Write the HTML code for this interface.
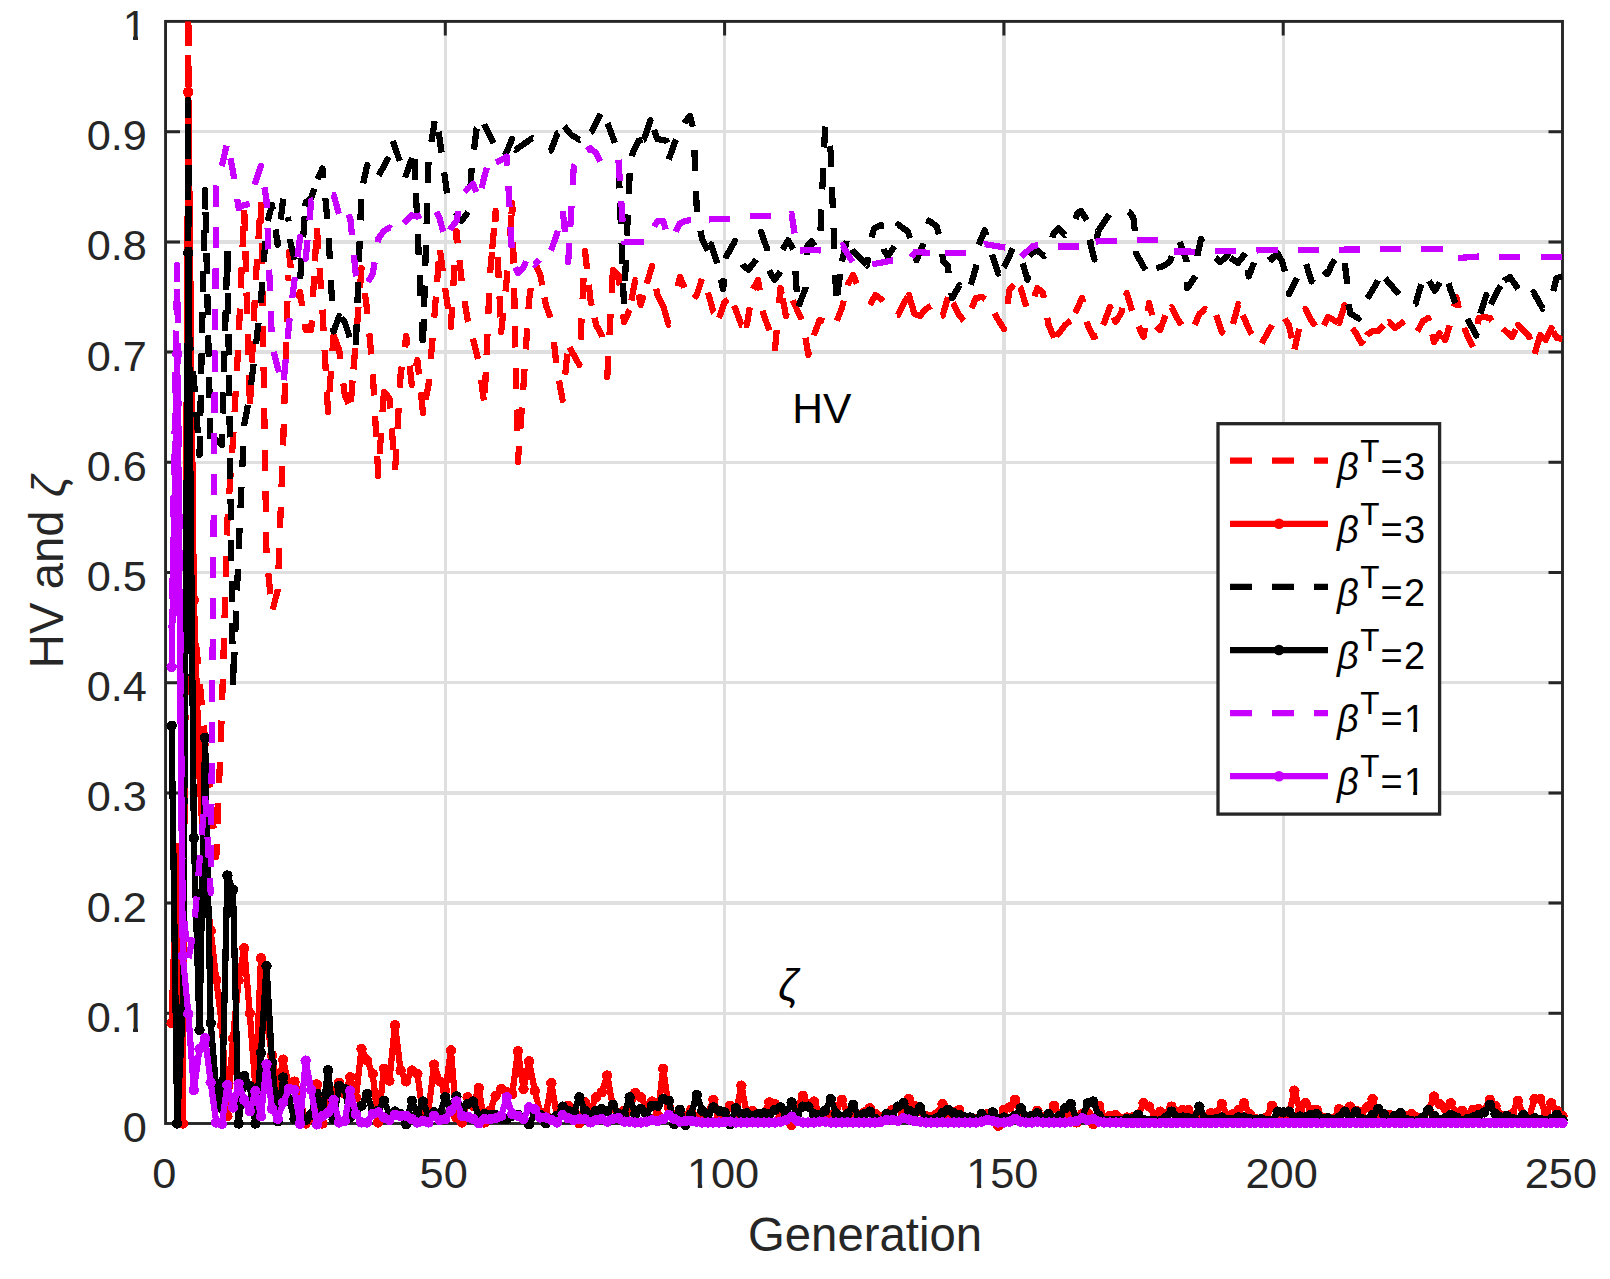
<!DOCTYPE html>
<html><head><meta charset="utf-8"><title>HV and zeta</title>
<style>html,body{margin:0;padding:0;background:#fff}svg{display:block}text{font-family:"Liberation Sans",sans-serif;fill:#262626}</style></head>
<body>
<svg width="1610" height="1279" viewBox="0 0 1610 1279">
<rect width="1610" height="1279" fill="#fff"/>
<defs><clipPath id="ax"><rect x="166.0" y="21.5" width="1396.5" height="1102.0"/></clipPath></defs>
<path d="M445.3 21.5V1123.5M724.6 21.5V1123.5M1003.9 21.5V1123.5M1283.2 21.5V1123.5M166.0 1013.3H1562.5M166.0 903.1H1562.5M166.0 792.9H1562.5M166.0 682.7H1562.5M166.0 572.5H1562.5M166.0 462.3H1562.5M166.0 352.1H1562.5M166.0 241.9H1562.5M166.0 131.7H1562.5" stroke="#dfdfdf" stroke-width="3.3" fill="none" shape-rendering="crispEdges"/>
<path d="M445.3 1123.5v-14M445.3 21.5v14M724.6 1123.5v-14M724.6 21.5v14M1003.9 1123.5v-14M1003.9 21.5v14M1283.2 1123.5v-14M1283.2 21.5v14M166.0 1013.3h14M1562.5 1013.3h-14M166.0 903.1h14M1562.5 903.1h-14M166.0 792.9h14M1562.5 792.9h-14M166.0 682.7h14M1562.5 682.7h-14M166.0 572.5h14M1562.5 572.5h-14M166.0 462.3h14M1562.5 462.3h-14M166.0 352.1h14M1562.5 352.1h-14M166.0 241.9h14M1562.5 241.9h-14M166.0 131.7h14M1562.5 131.7h-14" stroke="#262626" stroke-width="3" fill="none"/>
<rect x="165.55" y="21.4" width="1396.95" height="1102.1" fill="none" stroke="#262626" stroke-width="2.9"/>
<g font-size="43.3">
<text x="164.4" y="1187.5" text-anchor="middle">0</text><text x="443.7" y="1187.5" text-anchor="middle">50</text><text x="723.0" y="1187.5" text-anchor="middle">100</text><text x="1002.3" y="1187.5" text-anchor="middle">150</text><text x="1281.6" y="1187.5" text-anchor="middle">200</text><text x="1560.9" y="1187.5" text-anchor="middle">250</text><text x="146.9" y="1142.0" text-anchor="end">0</text><text x="146.9" y="1031.8" text-anchor="end">0.1</text><text x="146.9" y="921.6" text-anchor="end">0.2</text><text x="146.9" y="811.4" text-anchor="end">0.3</text><text x="146.9" y="701.2" text-anchor="end">0.4</text><text x="146.9" y="591.0" text-anchor="end">0.5</text><text x="146.9" y="480.8" text-anchor="end">0.6</text><text x="146.9" y="370.6" text-anchor="end">0.7</text><text x="146.9" y="260.4" text-anchor="end">0.8</text><text x="146.9" y="150.2" text-anchor="end">0.9</text><text x="146.9" y="40.0" text-anchor="end">1</text></g>
<path d="M125 35.3H133.0v5.4H125zM138.0 35.3H146.5v5.4H138.0zM125 1027.3H133.0v5.4H125zM138.0 1027.3H146.5v5.4H138.0zM689 1183.3H697.8v5.4H689zM702.2 1183.3H709.5v5.4H702.2zM968 1183.3H976.8v5.4H968zM981.2 1183.3H989v5.4H981.2z" fill="#fff"/>
<text x="865" y="1251" font-size="47.3" text-anchor="middle">Generation</text>
<text transform="translate(63,668.2) rotate(-90)" font-size="47.3">HV and</text>
<text transform="translate(65,497) rotate(-90)" font-size="46.6" font-style="italic" font-family="'Liberation Serif','DejaVu Serif',serif">ζ</text>
<g shape-rendering="crispEdges">
<polyline points="171.6,726.0 177.2,1123.0 182.8,1008.0 188.1,420.0 188.3,-300.0 188.6,420.0 193.9,620.0 199.5,680.0 205.1,740.0 210.7,798.0 216.3,857.0 221.9,710.0 227.4,520.0 233.0,440.0 238.6,340.0 244.2,208.0 249.8,410.0 255.4,285.0 261.0,200.0 266.5,555.0 272.1,612.0 277.7,590.0 283.3,440.0 288.2,274.9" fill="none" stroke="#ff0000" stroke-width="6.25" stroke-linejoin="round" stroke-dasharray="21.1 20.15" stroke-dashoffset="0" clip-path="url(#ax)"/>
<path d="M288.7 256.9L288.9 252.0L290.8 268.1M296.0 297.8L300.1 292.0L302.1 305.9M304.8 324.1L305.6 330.0L311.2 330.0L311.8 320.4M313.0 296.8L314.2 275.7M315.0 261.4L316.1 240.3M316.9 228.0L318.3 249.1M319.6 267.9L321.0 289.0M322.4 309.6L323.6 330.7M324.6 350.2L325.8 371.3M326.9 391.7L328.0 412.0L328.1 411.2M329.5 391.8L331.0 370.7M332.4 351.2L333.6 335.0L335.3 339.5M335.0 338.8L339.2 350.0L340.3 359.1M343.3 383.4L344.8 395.0L348.5 403.7M350.9 401.5L352.6 380.5M353.5 369.4L355.2 348.3M356.9 327.8L358.5 306.8M360.0 287.9L361.5 268.0L361.7 269.1M364.8 292.9L367.1 310.0L367.4 313.8M369.3 333.4L371.2 354.4M372.9 374.4L374.0 395.5M375.1 415.9L376.2 437.0M377.2 455.9L378.3 476.0L378.3 475.0M379.7 453.9L381.1 432.8M382.5 412.3L383.9 392.0L384.3 392.5M383.7 394.3L383.9 392.0L389.4 398.0L390.2 408.5M391.8 428.4L393.4 449.5M395.1 470.3L396.3 449.2M397.5 428.9L398.7 407.9M399.9 387.6L400.6 375.0L401.8 366.6M404.6 347.3L406.2 336.0L407.3 345.7M409.6 365.7L411.8 385.0L412.1 383.4M415.9 366.4L417.4 360.0L418.9 374.5M420.8 392.3L423.0 413.0L423.0 412.7M425.6 399.6L428.5 385.0L429.1 378.9M430.8 359.0L432.6 338.0M434.3 317.6L435.9 296.6M437.1 281.8L438.7 260.8M440.0 249.9L442.8 270.9M445.0 288.0L445.3 290.0L448.1 308.8M450.7 325.6L450.9 327.0L452.0 307.3M453.3 286.3L454.5 265.2M456.0 239.7L456.5 231.0L457.7 243.3M459.5 260.2L461.7 281.2M464.6 301.0L467.6 320.0L468.2 321.8M472.8 338.5L473.2 340.0L478.0 358.9M481.1 379.6L483.8 400.5M484.9 392.7L485.8 371.7M486.6 354.9L487.5 333.8M488.3 314.4L489.2 293.4M490.1 273.2L492.0 252.2M492.2 249.2L494.1 228.2M494.6 222.1L495.6 211.0L496.0 220.9M497.7 256.8L498.7 277.9M499.5 296.4L500.5 317.4M501.1 329.9L501.2 332.0L503.2 313.1M505.5 291.5L506.7 280.0L507.4 270.5M510.0 235.8L511.5 214.8M511.5 214.5L512.3 203.0L512.5 212.5M513.2 242.4L513.6 263.5M514.2 287.9L514.6 309.0M515.0 326.4L515.4 347.5M515.9 368.1L516.3 389.2M516.8 409.5L517.2 430.6M517.8 457.1L517.9 462.0L519.1 445.8M520.3 428.6L521.9 407.5M523.1 390.3L523.5 385.0L524.5 369.2M525.8 349.4L527.2 328.4M528.5 309.1L529.1 300.0L530.8 288.1M536.0 265.2L540.3 275.0L542.2 285.2M544.5 297.5L545.8 305.0L550.6 317.6M553.9 342.1L556.2 363.1M559.0 380.6L562.6 400.0L562.7 398.7M565.2 374.6L567.3 353.6M569.4 347.2L573.8 355.0L579.4 365.0L579.4 364.3M580.6 339.6L581.6 318.5M582.6 299.1L583.6 278.0M584.8 254.1L585.0 251.0L587.0 268.9M588.8 284.8L590.5 300.0L591.8 305.7M594.5 317.8L596.1 325.0L601.7 335.0L602.0 337.3M607.3 376.9L607.3 377.0L608.4 356.0M609.5 334.8L610.6 313.7M611.7 293.0L612.8 271.9M612.7 273.1L612.9 270.0L618.5 275.0L619.7 285.4M623.1 314.3L624.1 322.0L629.6 310.0L629.7 309.9M631.4 300.5L635.2 280.0L635.3 280.2M638.5 294.5L640.8 305.0L643.6 295.1M646.8 283.7L652.0 266.0L652.5 268.6M656.3 288.6L657.6 295.0L663.2 306.0L663.8 308.2M662.7 305.1L663.2 306.0L668.7 325.0L668.8 324.7M677.7 286.3L679.9 277.0L684.5 287.6M694.3 298.4L696.7 295.0L702.0 278.9M708.0 292.6L713.4 312.0L714.1 312.7M719.0 318.0L719.0 318.0L724.6 302.0L728.0 299.6M733.8 305.8L735.8 310.0L741.4 325.0L741.8 325.0M743.7 325.0L746.9 325.0L749.8 307.3M753.0 289.2L758.1 280.0L759.8 290.4M763.0 310.5L763.7 315.0L769.3 330.0L769.4 330.5M774.9 350.9L776.7 329.9M779.1 302.9L780.5 288.0L781.7 294.0M782.6 298.6L786.0 316.0L787.0 312.8M792.7 300.4L797.2 310.0L801.6 319.5M805.5 337.8L808.4 355.0L809.4 351.5M813.9 335.4L814.0 335.0L819.6 320.0L824.0 321.6M836.9 320.7L841.9 308.0L843.7 300.7M847.4 285.3L847.5 285.0L853.1 275.0L856.8 283.6M869.9 304.8L875.4 295.0L881.0 299.0L882.9 301.3M897.4 314.9L897.8 315.0L903.4 304.0L907.8 296.9M908.7 295.5L908.9 295.0L914.5 314.0L915.2 314.3M914.6 314.0L920.1 316.0L925.7 309.0L931.2 306.0M941.1 316.5L942.5 316.0L948.0 297.1M952.8 303.0L953.6 304.0L959.2 315.0L963.8 320.8M971.5 308.3L976.0 298.0L981.6 297.0L985.3 299.0M994.6 313.3L998.3 320.0L1003.9 329.0L1004.3 326.2M1007.5 303.8L1009.5 290.0L1014.0 284.4M1019.5 286.9L1020.7 288.0L1026.2 306.7M1034.4 296.2L1037.4 288.0L1043.0 293.0L1043.8 297.8M1047.3 317.9L1048.6 325.0L1054.1 337.8M1056.2 335.8L1059.8 332.0L1065.3 325.0L1070.5 320.4M1075.0 312.8L1076.5 310.0L1082.1 298.0L1083.0 302.6M1087.0 321.5L1087.7 325.0L1093.3 337.0L1097.3 335.6M1103.1 325.1L1104.4 322.0L1110.0 307.0L1110.6 308.6M1113.8 317.1L1115.6 322.0L1121.2 313.0L1122.6 307.9M1126.1 295.4L1126.8 293.0L1132.1 310.9M1138.5 326.2L1143.5 337.0L1145.0 327.9M1147.8 311.4L1149.1 303.0L1152.2 315.2M1156.2 326.3L1160.3 330.0L1165.4 315.3M1171.2 307.3L1171.5 307.0L1177.1 318.0L1181.5 325.1M1194.7 325.0L1199.4 314.0L1205.0 309.0L1206.4 309.8M1216.2 315.0L1216.2 315.0L1221.8 332.0L1224.3 333.9M1232.9 324.0L1232.9 324.0L1238.5 304.0L1238.6 304.3M1242.9 315.1L1244.1 318.0L1249.7 331.0L1252.1 334.0M1261.7 343.4L1266.4 335.0L1272.0 325.0M1284.8 318.6L1288.8 325.0L1291.8 338.3M1294.5 349.4L1299.1 328.8M1305.1 310.2L1305.5 309.0L1311.1 320.0L1315.4 326.1M1323.6 325.5L1327.9 317.0L1333.5 320.0L1338.1 322.5M1338.6 322.7L1339.1 323.0L1344.6 305.0L1345.1 306.6M1352.5 328.2L1355.8 333.0L1361.4 343.0L1363.6 339.9M1366.7 335.4L1367.0 335.0L1372.6 331.0L1378.2 331.0L1383.7 325.1M1388.3 322.6L1389.3 322.0L1394.9 328.0L1400.5 324.0L1404.4 321.2M1417.5 331.5L1422.8 321.0L1428.4 318.0L1429.1 320.9M1432.2 334.2L1434.0 342.0L1439.6 333.0L1441.2 335.0M1441.5 335.4L1445.2 340.0L1449.7 325.5M1454.2 306.7L1456.4 297.0L1458.8 307.9M1464.2 327.8L1467.5 336.0L1473.1 346.9M1477.5 324.1L1478.7 318.0L1484.3 317.0L1489.9 318.0L1491.9 320.9M1502.8 328.5L1506.6 332.0L1512.2 337.0L1515.8 329.4M1517.2 326.4L1517.8 325.0L1523.4 330.0L1529.0 336.0L1530.1 339.7M1534.6 353.9L1540.2 335.0L1541.2 336.0M1541.6 336.3L1545.7 340.0L1551.3 328.0L1552.5 330.0M1553.2 331.3L1556.9 338.0L1562.5 339.0" fill="none" stroke="#ff0000" stroke-width="6.25" stroke-linejoin="round" clip-path="url(#ax)"/>
<polyline points="171.6,1023.2 177.2,848.0 182.8,1123.5 188.3,92.0 193.9,600.1 199.5,775.3 205.1,881.1 210.7,930.6 216.3,980.2 221.9,1025.4 227.4,1116.1 233.0,1038.6 238.6,980.2 244.2,948.3 249.8,1013.3 255.4,1087.6 261.0,958.2 266.5,1021.0 272.1,1055.2 277.7,1090.4 283.3,1059.6 288.9,1087.1 294.5,1081.6 300.1,1097.1 305.6,1123.5 311.2,1117.4 316.8,1084.4 322.4,1123.5 328.0,1096.0 333.6,1092.6 339.2,1082.7 344.8,1093.7 350.3,1077.2 355.9,1097.3 361.5,1048.7 367.1,1060.4 372.7,1073.9 378.3,1122.5 383.9,1068.8 389.4,1080.6 395.0,1025.2 400.6,1070.5 406.2,1081.4 411.8,1070.5 417.4,1073.9 423.0,1114.9 428.5,1110.7 434.1,1064.6 439.7,1081.4 445.3,1090.6 450.9,1050.4 456.5,1117.5 462.1,1122.5 467.6,1097.3 473.2,1105.7 478.8,1088.1 484.4,1122.5 490.0,1110.7 495.6,1095.7 501.2,1088.9 506.7,1092.3 512.3,1094.0 517.9,1051.2 523.5,1088.9 529.1,1061.3 534.7,1090.6 540.3,1112.4 545.8,1114.9 551.4,1083.1 557.0,1117.5 562.6,1107.4 568.2,1105.7 573.8,1110.7 579.4,1123.3 585.0,1102.4 590.5,1110.7 596.1,1097.3 601.7,1092.3 607.3,1075.5 612.9,1107.4 618.5,1114.1 624.1,1110.7 629.6,1110.7 635.2,1093.1 640.8,1097.3 646.4,1107.4 652.0,1101.5 657.6,1114.9 663.2,1068.8 668.7,1107.4 674.3,1115.8 679.9,1117.5 685.5,1115.8 691.1,1109.9 696.7,1117.5 702.3,1117.5 707.8,1114.1 713.4,1099.8 719.0,1115.8 724.6,1114.1 730.2,1105.7 735.8,1114.1 741.4,1085.6 746.9,1114.1 752.5,1110.7 758.1,1117.5 763.7,1114.1 769.3,1102.4 774.9,1104.0 780.5,1117.5 786.0,1115.8 791.6,1125.0 797.2,1107.4 802.8,1095.7 808.4,1104.0 814.0,1101.5 819.6,1114.1 825.1,1117.5 830.7,1115.8 836.3,1107.4 841.9,1099.8 847.5,1114.1 853.1,1117.5 858.7,1117.5 864.2,1112.4 869.8,1108.2 875.4,1114.1 881.0,1117.5 886.6,1114.1 892.2,1109.9 897.8,1107.4 903.4,1114.1 908.9,1099.0 914.5,1105.7 920.1,1110.7 925.7,1115.8 931.3,1117.5 936.9,1114.1 942.5,1104.0 948.0,1115.8 953.6,1112.4 959.2,1109.9 964.8,1117.5 970.4,1119.1 976.0,1119.1 981.6,1117.5 987.1,1114.1 992.7,1117.5 998.3,1125.8 1003.9,1109.9 1009.5,1107.4 1015.1,1099.8 1020.7,1114.1 1026.2,1117.5 1031.8,1115.8 1037.4,1110.7 1043.0,1117.5 1048.6,1117.5 1054.2,1105.7 1059.8,1115.8 1065.3,1114.1 1070.9,1115.8 1076.5,1122.5 1082.1,1114.1 1087.7,1113.3 1093.3,1124.2 1098.9,1105.7 1104.4,1117.5 1110.0,1115.8 1115.6,1114.9 1121.2,1119.1 1126.8,1117.5 1132.4,1117.5 1138.0,1115.8 1143.5,1103.2 1149.1,1106.6 1154.7,1114.9 1160.3,1111.6 1165.9,1114.1 1171.5,1106.6 1177.1,1112.4 1182.7,1109.9 1188.2,1109.9 1193.8,1115.8 1199.4,1117.5 1205.0,1117.5 1210.6,1113.3 1216.2,1113.3 1221.8,1104.0 1227.3,1115.8 1232.9,1114.1 1238.5,1109.9 1244.1,1103.2 1249.7,1114.1 1255.3,1119.1 1260.9,1119.1 1266.4,1117.5 1272.0,1105.7 1277.6,1114.1 1283.2,1114.1 1288.8,1114.1 1294.4,1090.6 1300.0,1110.7 1305.5,1103.2 1311.1,1109.9 1316.7,1109.9 1322.3,1117.5 1327.9,1119.1 1333.5,1119.1 1339.1,1109.1 1344.6,1110.7 1350.2,1106.6 1355.8,1110.7 1361.4,1112.4 1367.0,1107.4 1372.6,1099.0 1378.2,1117.5 1383.7,1115.8 1389.3,1114.9 1394.9,1117.5 1400.5,1119.1 1406.1,1115.8 1411.7,1114.1 1417.3,1117.5 1422.8,1119.1 1428.4,1110.7 1434.0,1096.5 1439.6,1104.0 1445.2,1108.2 1450.8,1103.2 1456.4,1114.1 1462.0,1110.7 1467.5,1114.9 1473.1,1109.9 1478.7,1109.1 1484.3,1110.7 1489.9,1099.8 1495.5,1105.7 1501.1,1115.8 1506.6,1117.5 1512.2,1114.1 1517.8,1100.7 1523.4,1114.9 1529.0,1117.5 1534.6,1099.0 1540.2,1099.0 1545.7,1114.1 1551.3,1103.2 1556.9,1110.7 1562.5,1115.8" fill="none" stroke="#ff0000" stroke-width="6.25" stroke-linejoin="round" stroke-linecap="butt" clip-path="url(#ax)"/><g fill="#ff0000"><circle cx="171.6" cy="1023.2" r="5.2"/><circle cx="177.2" cy="848.0" r="5.2"/><circle cx="182.8" cy="1123.5" r="5.2"/><circle cx="188.3" cy="92.0" r="5.2"/><circle cx="193.9" cy="600.1" r="5.2"/><circle cx="199.5" cy="775.3" r="5.2"/><circle cx="205.1" cy="881.1" r="5.2"/><circle cx="210.7" cy="930.6" r="5.2"/><circle cx="216.3" cy="980.2" r="5.2"/><circle cx="221.9" cy="1025.4" r="5.2"/><circle cx="227.4" cy="1116.1" r="5.2"/><circle cx="233.0" cy="1038.6" r="5.2"/><circle cx="238.6" cy="980.2" r="5.2"/><circle cx="244.2" cy="948.3" r="5.2"/><circle cx="249.8" cy="1013.3" r="5.2"/><circle cx="255.4" cy="1087.6" r="5.2"/><circle cx="261.0" cy="958.2" r="5.2"/><circle cx="266.5" cy="1021.0" r="5.2"/><circle cx="272.1" cy="1055.2" r="5.2"/><circle cx="277.7" cy="1090.4" r="5.2"/><circle cx="283.3" cy="1059.6" r="5.2"/><circle cx="288.9" cy="1087.1" r="5.2"/><circle cx="294.5" cy="1081.6" r="5.2"/><circle cx="300.1" cy="1097.1" r="5.2"/><circle cx="305.6" cy="1123.5" r="5.2"/><circle cx="311.2" cy="1117.4" r="5.2"/><circle cx="316.8" cy="1084.4" r="5.2"/><circle cx="322.4" cy="1123.5" r="5.2"/><circle cx="328.0" cy="1096.0" r="5.2"/><circle cx="333.6" cy="1092.6" r="5.2"/><circle cx="339.2" cy="1082.7" r="5.2"/><circle cx="344.8" cy="1093.7" r="5.2"/><circle cx="350.3" cy="1077.2" r="5.2"/><circle cx="355.9" cy="1097.3" r="5.2"/><circle cx="361.5" cy="1048.7" r="5.2"/><circle cx="367.1" cy="1060.4" r="5.2"/><circle cx="372.7" cy="1073.9" r="5.2"/><circle cx="378.3" cy="1122.5" r="5.2"/><circle cx="383.9" cy="1068.8" r="5.2"/><circle cx="389.4" cy="1080.6" r="5.2"/><circle cx="395.0" cy="1025.2" r="5.2"/><circle cx="400.6" cy="1070.5" r="5.2"/><circle cx="406.2" cy="1081.4" r="5.2"/><circle cx="411.8" cy="1070.5" r="5.2"/><circle cx="417.4" cy="1073.9" r="5.2"/><circle cx="423.0" cy="1114.9" r="5.2"/><circle cx="428.5" cy="1110.7" r="5.2"/><circle cx="434.1" cy="1064.6" r="5.2"/><circle cx="439.7" cy="1081.4" r="5.2"/><circle cx="445.3" cy="1090.6" r="5.2"/><circle cx="450.9" cy="1050.4" r="5.2"/><circle cx="456.5" cy="1117.5" r="5.2"/><circle cx="462.1" cy="1122.5" r="5.2"/><circle cx="467.6" cy="1097.3" r="5.2"/><circle cx="473.2" cy="1105.7" r="5.2"/><circle cx="478.8" cy="1088.1" r="5.2"/><circle cx="484.4" cy="1122.5" r="5.2"/><circle cx="490.0" cy="1110.7" r="5.2"/><circle cx="495.6" cy="1095.7" r="5.2"/><circle cx="501.2" cy="1088.9" r="5.2"/><circle cx="506.7" cy="1092.3" r="5.2"/><circle cx="512.3" cy="1094.0" r="5.2"/><circle cx="517.9" cy="1051.2" r="5.2"/><circle cx="523.5" cy="1088.9" r="5.2"/><circle cx="529.1" cy="1061.3" r="5.2"/><circle cx="534.7" cy="1090.6" r="5.2"/><circle cx="540.3" cy="1112.4" r="5.2"/><circle cx="545.8" cy="1114.9" r="5.2"/><circle cx="551.4" cy="1083.1" r="5.2"/><circle cx="557.0" cy="1117.5" r="5.2"/><circle cx="562.6" cy="1107.4" r="5.2"/><circle cx="568.2" cy="1105.7" r="5.2"/><circle cx="573.8" cy="1110.7" r="5.2"/><circle cx="579.4" cy="1123.3" r="5.2"/><circle cx="585.0" cy="1102.4" r="5.2"/><circle cx="590.5" cy="1110.7" r="5.2"/><circle cx="596.1" cy="1097.3" r="5.2"/><circle cx="601.7" cy="1092.3" r="5.2"/><circle cx="607.3" cy="1075.5" r="5.2"/><circle cx="612.9" cy="1107.4" r="5.2"/><circle cx="618.5" cy="1114.1" r="5.2"/><circle cx="624.1" cy="1110.7" r="5.2"/><circle cx="629.6" cy="1110.7" r="5.2"/><circle cx="635.2" cy="1093.1" r="5.2"/><circle cx="640.8" cy="1097.3" r="5.2"/><circle cx="646.4" cy="1107.4" r="5.2"/><circle cx="652.0" cy="1101.5" r="5.2"/><circle cx="657.6" cy="1114.9" r="5.2"/><circle cx="663.2" cy="1068.8" r="5.2"/><circle cx="668.7" cy="1107.4" r="5.2"/><circle cx="674.3" cy="1115.8" r="5.2"/><circle cx="679.9" cy="1117.5" r="5.2"/><circle cx="685.5" cy="1115.8" r="5.2"/><circle cx="691.1" cy="1109.9" r="5.2"/><circle cx="696.7" cy="1117.5" r="5.2"/><circle cx="702.3" cy="1117.5" r="5.2"/><circle cx="707.8" cy="1114.1" r="5.2"/><circle cx="713.4" cy="1099.8" r="5.2"/><circle cx="719.0" cy="1115.8" r="5.2"/><circle cx="724.6" cy="1114.1" r="5.2"/><circle cx="730.2" cy="1105.7" r="5.2"/><circle cx="735.8" cy="1114.1" r="5.2"/><circle cx="741.4" cy="1085.6" r="5.2"/><circle cx="746.9" cy="1114.1" r="5.2"/><circle cx="752.5" cy="1110.7" r="5.2"/><circle cx="758.1" cy="1117.5" r="5.2"/><circle cx="763.7" cy="1114.1" r="5.2"/><circle cx="769.3" cy="1102.4" r="5.2"/><circle cx="774.9" cy="1104.0" r="5.2"/><circle cx="780.5" cy="1117.5" r="5.2"/><circle cx="786.0" cy="1115.8" r="5.2"/><circle cx="791.6" cy="1125.0" r="5.2"/><circle cx="797.2" cy="1107.4" r="5.2"/><circle cx="802.8" cy="1095.7" r="5.2"/><circle cx="808.4" cy="1104.0" r="5.2"/><circle cx="814.0" cy="1101.5" r="5.2"/><circle cx="819.6" cy="1114.1" r="5.2"/><circle cx="825.1" cy="1117.5" r="5.2"/><circle cx="830.7" cy="1115.8" r="5.2"/><circle cx="836.3" cy="1107.4" r="5.2"/><circle cx="841.9" cy="1099.8" r="5.2"/><circle cx="847.5" cy="1114.1" r="5.2"/><circle cx="853.1" cy="1117.5" r="5.2"/><circle cx="858.7" cy="1117.5" r="5.2"/><circle cx="864.2" cy="1112.4" r="5.2"/><circle cx="869.8" cy="1108.2" r="5.2"/><circle cx="875.4" cy="1114.1" r="5.2"/><circle cx="881.0" cy="1117.5" r="5.2"/><circle cx="886.6" cy="1114.1" r="5.2"/><circle cx="892.2" cy="1109.9" r="5.2"/><circle cx="897.8" cy="1107.4" r="5.2"/><circle cx="903.4" cy="1114.1" r="5.2"/><circle cx="908.9" cy="1099.0" r="5.2"/><circle cx="914.5" cy="1105.7" r="5.2"/><circle cx="920.1" cy="1110.7" r="5.2"/><circle cx="925.7" cy="1115.8" r="5.2"/><circle cx="931.3" cy="1117.5" r="5.2"/><circle cx="936.9" cy="1114.1" r="5.2"/><circle cx="942.5" cy="1104.0" r="5.2"/><circle cx="948.0" cy="1115.8" r="5.2"/><circle cx="953.6" cy="1112.4" r="5.2"/><circle cx="959.2" cy="1109.9" r="5.2"/><circle cx="964.8" cy="1117.5" r="5.2"/><circle cx="970.4" cy="1119.1" r="5.2"/><circle cx="976.0" cy="1119.1" r="5.2"/><circle cx="981.6" cy="1117.5" r="5.2"/><circle cx="987.1" cy="1114.1" r="5.2"/><circle cx="992.7" cy="1117.5" r="5.2"/><circle cx="998.3" cy="1125.8" r="5.2"/><circle cx="1003.9" cy="1109.9" r="5.2"/><circle cx="1009.5" cy="1107.4" r="5.2"/><circle cx="1015.1" cy="1099.8" r="5.2"/><circle cx="1020.7" cy="1114.1" r="5.2"/><circle cx="1026.2" cy="1117.5" r="5.2"/><circle cx="1031.8" cy="1115.8" r="5.2"/><circle cx="1037.4" cy="1110.7" r="5.2"/><circle cx="1043.0" cy="1117.5" r="5.2"/><circle cx="1048.6" cy="1117.5" r="5.2"/><circle cx="1054.2" cy="1105.7" r="5.2"/><circle cx="1059.8" cy="1115.8" r="5.2"/><circle cx="1065.3" cy="1114.1" r="5.2"/><circle cx="1070.9" cy="1115.8" r="5.2"/><circle cx="1076.5" cy="1122.5" r="5.2"/><circle cx="1082.1" cy="1114.1" r="5.2"/><circle cx="1087.7" cy="1113.3" r="5.2"/><circle cx="1093.3" cy="1124.2" r="5.2"/><circle cx="1098.9" cy="1105.7" r="5.2"/><circle cx="1104.4" cy="1117.5" r="5.2"/><circle cx="1110.0" cy="1115.8" r="5.2"/><circle cx="1115.6" cy="1114.9" r="5.2"/><circle cx="1121.2" cy="1119.1" r="5.2"/><circle cx="1126.8" cy="1117.5" r="5.2"/><circle cx="1132.4" cy="1117.5" r="5.2"/><circle cx="1138.0" cy="1115.8" r="5.2"/><circle cx="1143.5" cy="1103.2" r="5.2"/><circle cx="1149.1" cy="1106.6" r="5.2"/><circle cx="1154.7" cy="1114.9" r="5.2"/><circle cx="1160.3" cy="1111.6" r="5.2"/><circle cx="1165.9" cy="1114.1" r="5.2"/><circle cx="1171.5" cy="1106.6" r="5.2"/><circle cx="1177.1" cy="1112.4" r="5.2"/><circle cx="1182.7" cy="1109.9" r="5.2"/><circle cx="1188.2" cy="1109.9" r="5.2"/><circle cx="1193.8" cy="1115.8" r="5.2"/><circle cx="1199.4" cy="1117.5" r="5.2"/><circle cx="1205.0" cy="1117.5" r="5.2"/><circle cx="1210.6" cy="1113.3" r="5.2"/><circle cx="1216.2" cy="1113.3" r="5.2"/><circle cx="1221.8" cy="1104.0" r="5.2"/><circle cx="1227.3" cy="1115.8" r="5.2"/><circle cx="1232.9" cy="1114.1" r="5.2"/><circle cx="1238.5" cy="1109.9" r="5.2"/><circle cx="1244.1" cy="1103.2" r="5.2"/><circle cx="1249.7" cy="1114.1" r="5.2"/><circle cx="1255.3" cy="1119.1" r="5.2"/><circle cx="1260.9" cy="1119.1" r="5.2"/><circle cx="1266.4" cy="1117.5" r="5.2"/><circle cx="1272.0" cy="1105.7" r="5.2"/><circle cx="1277.6" cy="1114.1" r="5.2"/><circle cx="1283.2" cy="1114.1" r="5.2"/><circle cx="1288.8" cy="1114.1" r="5.2"/><circle cx="1294.4" cy="1090.6" r="5.2"/><circle cx="1300.0" cy="1110.7" r="5.2"/><circle cx="1305.5" cy="1103.2" r="5.2"/><circle cx="1311.1" cy="1109.9" r="5.2"/><circle cx="1316.7" cy="1109.9" r="5.2"/><circle cx="1322.3" cy="1117.5" r="5.2"/><circle cx="1327.9" cy="1119.1" r="5.2"/><circle cx="1333.5" cy="1119.1" r="5.2"/><circle cx="1339.1" cy="1109.1" r="5.2"/><circle cx="1344.6" cy="1110.7" r="5.2"/><circle cx="1350.2" cy="1106.6" r="5.2"/><circle cx="1355.8" cy="1110.7" r="5.2"/><circle cx="1361.4" cy="1112.4" r="5.2"/><circle cx="1367.0" cy="1107.4" r="5.2"/><circle cx="1372.6" cy="1099.0" r="5.2"/><circle cx="1378.2" cy="1117.5" r="5.2"/><circle cx="1383.7" cy="1115.8" r="5.2"/><circle cx="1389.3" cy="1114.9" r="5.2"/><circle cx="1394.9" cy="1117.5" r="5.2"/><circle cx="1400.5" cy="1119.1" r="5.2"/><circle cx="1406.1" cy="1115.8" r="5.2"/><circle cx="1411.7" cy="1114.1" r="5.2"/><circle cx="1417.3" cy="1117.5" r="5.2"/><circle cx="1422.8" cy="1119.1" r="5.2"/><circle cx="1428.4" cy="1110.7" r="5.2"/><circle cx="1434.0" cy="1096.5" r="5.2"/><circle cx="1439.6" cy="1104.0" r="5.2"/><circle cx="1445.2" cy="1108.2" r="5.2"/><circle cx="1450.8" cy="1103.2" r="5.2"/><circle cx="1456.4" cy="1114.1" r="5.2"/><circle cx="1462.0" cy="1110.7" r="5.2"/><circle cx="1467.5" cy="1114.9" r="5.2"/><circle cx="1473.1" cy="1109.9" r="5.2"/><circle cx="1478.7" cy="1109.1" r="5.2"/><circle cx="1484.3" cy="1110.7" r="5.2"/><circle cx="1489.9" cy="1099.8" r="5.2"/><circle cx="1495.5" cy="1105.7" r="5.2"/><circle cx="1501.1" cy="1115.8" r="5.2"/><circle cx="1506.6" cy="1117.5" r="5.2"/><circle cx="1512.2" cy="1114.1" r="5.2"/><circle cx="1517.8" cy="1100.7" r="5.2"/><circle cx="1523.4" cy="1114.9" r="5.2"/><circle cx="1529.0" cy="1117.5" r="5.2"/><circle cx="1534.6" cy="1099.0" r="5.2"/><circle cx="1540.2" cy="1099.0" r="5.2"/><circle cx="1545.7" cy="1114.1" r="5.2"/><circle cx="1551.3" cy="1103.2" r="5.2"/><circle cx="1556.9" cy="1110.7" r="5.2"/><circle cx="1562.5" cy="1115.8" r="5.2"/></g>
<polyline points="171.6,726.0 177.2,1123.0 182.8,1008.0 188.1,330.0 188.3,100.0 188.6,330.0 193.9,380.0 199.5,455.0 205.1,190.0 210.7,450.0 216.3,440.0 221.9,445.0 227.4,250.0 233.0,689.0 238.6,551.0 244.2,425.0 249.8,395.0 255.4,350.0 261.0,300.0 266.5,225.0 272.1,205.0 277.7,245.0 283.3,198.0 288.7,221.3" fill="none" stroke="#000000" stroke-width="6.25" stroke-linejoin="round" stroke-dasharray="21.1 20.15" stroke-dashoffset="0" clip-path="url(#ax)"/>
<path d="M289.9 239.2L290.0 240.3L294.4 258.9L294.6 259.8M300.2 278.7L301.7 257.7M303.2 237.4L304.7 216.3M305.4 206.5L305.7 202.3L311.3 198.1L314.4 188.6M317.6 179.3L322.4 168.5L323.3 177.8M325.3 197.9L327.4 218.9M328.7 238.2L329.8 259.3M330.9 280.1L332.0 301.1M333.4 328.3L333.6 331.5L339.2 316.1L340.2 317.3M341.2 318.3L344.7 322.0L349.7 337.2M355.9 344.7L356.7 323.7M357.4 303.2L358.2 282.1M358.9 262.3L359.7 241.2M360.4 220.4L361.2 199.4M363.2 183.3L367.2 165.1L368.3 167.3M378.8 175.6L383.9 166.0L388.8 157.1M392.8 140.9L399.7 160.8M405.1 177.6L412.1 157.8M414.4 159.2L415.4 180.3M416.0 193.3L416.9 214.4M417.8 233.8L418.7 254.9M419.7 275.2L420.6 296.3M421.7 321.5L422.7 342.6M423.1 339.9L423.8 318.8M424.1 306.6L424.8 285.5M425.3 265.7L426.0 244.6M426.6 224.1L427.2 203.1M427.8 183.0L428.5 161.9M431.4 141.9L434.7 121.1M438.6 131.7L441.5 152.6M444.2 172.3L447.0 193.0L447.1 193.2M455.4 212.7L461.4 220.9L468.0 212.1M470.3 189.2L471.6 169.4L471.7 168.2M474.0 149.6L476.6 128.8L476.7 128.7M484.3 124.1L493.4 143.1M503.5 155.8L505.3 155.0L512.1 139.0L512.6 140.7M515.3 149.7L515.4 149.9L532.3 138.1L532.5 138.3M549.0 151.3L550.8 150.8L557.6 133.1L557.9 133.1M564.2 126.3L571.1 134.7L579.4 139.8L579.8 139.6M590.8 132.6L591.4 132.2L600.6 114.0M607.5 123.2L614.9 142.9M618.7 167.3L619.5 188.4M620.0 203.1L620.8 224.2M621.6 243.0L622.4 264.1M623.1 282.9L623.9 304.0M625.0 280.8L625.9 259.7M626.9 235.6L627.9 214.5M628.8 194.2L629.7 173.2M632.2 156.3L632.8 152.5L638.6 140.7L642.6 140.0M643.4 139.9L643.7 139.8L650.5 120.4L650.5 120.6M654.1 129.8L657.2 139.0L666.5 140.7L666.7 142.6M668.7 159.5L675.8 139.8L675.9 139.6M684.5 123.3L685.1 122.1L690.1 115.7L692.9 126.9M694.4 150.3L695.2 171.4M696.0 191.2L696.9 212.3M700.5 230.8L702.0 238.6L707.9 250.4M710.7 245.5L711.2 244.5L717.2 263.1L717.3 263.5M720.8 279.3L723.1 289.3L724.2 278.4M726.2 258.6L726.4 256.3L734.9 241.1L735.3 242.5M742.8 264.1L743.4 265.6L748.4 269.8L756.2 259.5M760.9 233.6L761.1 232.2L767.0 248.7L767.1 250.8M769.0 270.5L774.6 280.0L780.4 271.7M782.5 249.6L782.5 249.6L788.1 240.3L793.2 249.2M795.4 271.0L796.8 292.1M798.4 306.6L805.8 287.6L805.8 286.9M807.1 254.7L807.5 245.4L811.7 241.1L813.9 245.1L814.7 246.1M820.5 230.6L821.4 209.5M822.3 189.4L823.3 168.3M824.2 147.5L825.1 126.5M829.5 146.1L830.7 152.0L831.3 167.0M832.0 187.3L832.8 208.4M833.6 228.1L834.4 249.2M835.3 275.1L836.1 296.2M837.3 295.0L840.2 274.1M842.0 261.4L842.1 261.1L846.7 240.8M852.0 249.7L852.2 250.2L866.6 264.9" fill="none" stroke="#000000" stroke-width="6.25" stroke-linejoin="round" clip-path="url(#ax)"/>
<polyline points="867.0,265.3 867.1,265.4 870.5,240.9 874.2,228.2 880.9,224.8 883.8,249.3 887.7,256.6 895.3,245.1 898.2,224.5 907.9,231.6 911.8,243.4 916.4,260.3 925.1,239.7 929.0,220.6 936.6,226.5 940.4,239.2 943.4,262.0 947.6,265.4 952.2,298.3 959.4,285.3 965.4,293.7 969.6,289.0 975.8,267.9 976.8,249.3 984.8,230.2 991.5,252.7 998.3,273.5 1001.6,269.8" fill="none" stroke="#000000" stroke-width="6.25" stroke-linejoin="round" stroke-dasharray="21.1 20.15" stroke-dashoffset="12.74" clip-path="url(#ax)"/>
<polyline points="1001.6,269.8 1004.2,267.0 1013.5,247.1 1021.1,257.8 1027.5,279.7 1029.5,256.1 1036.3,249.3 1043.9,256.1 1048.9,253.5 1053.2,234.1 1058.3,228.2 1065.0,235.0 1070.9,231.6 1077.6,213.0 1081.0,211.0 1089.4,224.0 1090.6,244.3 1094.5,259.5 1097.9,231.6 1098.0,231.4" fill="none" stroke="#000000" stroke-width="6.25" stroke-linejoin="round" stroke-dasharray="21.1 20.15" stroke-dashoffset="37.93" clip-path="url(#ax)"/>
<polyline points="1098.0,231.4 1109.7,213.6 1129.1,211.9 1133.3,217.3 1135.0,232.5 1136.2,253.6 1146.0,271.0 1155.0,268.5" fill="none" stroke="#000000" stroke-width="6.25" stroke-linejoin="round" stroke-dasharray="21.1 20.15" stroke-dashoffset="0.73" clip-path="url(#ax)"/>
<polyline points="1155.0,268.5 1162.9,266.3 1169.6,262.0 1173.8,251.1 1178.9,239.7 1186.5,260.3 1187.3,288.2 1195.8,275.5 1197.5,255.3 1200.9,238.9 1213.5,256.1 1220.3,262.0 1227.1,256.1 1229.6,257.4" fill="none" stroke="#000000" stroke-width="6.25" stroke-linejoin="round" stroke-dasharray="21.1 20.15" stroke-dashoffset="39.89" clip-path="url(#ax)"/>
<polyline points="1229.6,257.4 1230.4,257.8 1238.0,262.9 1246.4,251.9 1248.7,276.4 1255.8,257.8 1266.7,253.6 1271.8,259.5 1277.7,253.6 1278.3,254.6" fill="none" stroke="#000000" stroke-width="6.25" stroke-linejoin="round" stroke-dasharray="21.1 20.15" stroke-dashoffset="40.24" clip-path="url(#ax)"/>
<polyline points="1278.3,254.6 1281.9,261.2 1287.8,280.6 1289.2,294.1 1298.8,274.7 1305.5,262.0 1311.5,281.4 1320.7,266.3 1326.8,273.9 1327.5,273.9 1332.6,262.9 1333.5,262.0 1338.6,252.7 1344.5,261.2 1347.0,281.4 1347.9,301.7 1350.4,313.5 1358.8,318.6 1364.8,302.6 1375.7,284.8 1379.9,275.5 1381.0,276.1" fill="none" stroke="#000000" stroke-width="6.25" stroke-linejoin="round" stroke-dasharray="21.1 20.15" stroke-dashoffset="2.93" clip-path="url(#ax)"/>
<polyline points="1381.0,276.1 1385.0,278.1 1399.4,295.0 1407.8,303.4 1415.4,304.2 1421.3,284.0 1424.7,273.3 1428.9,280.6 1434.8,290.7 1441.6,279.8 1445.8,273.9 1450.0,288.2 1456.8,307.6 1466.1,316.1 1476.2,335.5 1480.4,313.5 1486.3,295.0 1488.2,310.2 1498.1,289.9 1502.0,283.9" fill="none" stroke="#000000" stroke-width="6.25" stroke-linejoin="round" stroke-dasharray="21.1 20.15" stroke-dashoffset="36.54" clip-path="url(#ax)"/>
<polyline points="1502.0,283.9 1504.1,280.6 1510.0,277.2 1520.1,291.6 1526.9,298.3 1533.6,292.4 1542.9,308.8 1553.0,292.4 1556.4,278.1 1562.5,276.4" fill="none" stroke="#000000" stroke-width="6.25" stroke-linejoin="round" stroke-dasharray="21.1 20.15" stroke-dashoffset="37.46" clip-path="url(#ax)"/>
<polyline points="171.6,725.7 177.2,1123.5 182.8,1007.8 188.3,252.9 193.9,838.1 199.5,1029.8 205.1,737.8 210.7,1023.2 216.3,1090.4 221.9,1108.1 227.4,875.5 233.0,889.9 238.6,1123.5 244.2,1076.1 249.8,1086.0 255.4,1123.5 261.0,1053.0 266.5,965.9 272.1,1062.9 277.7,1121.3 283.3,1077.5 288.9,1099.3 294.5,1119.1 300.1,1110.3 305.6,1120.2 311.2,1114.7 316.8,1093.7 322.4,1114.7 328.0,1070.1 333.6,1119.1 339.2,1086.0 344.8,1088.9 350.3,1117.5 355.9,1114.1 361.5,1105.7 367.1,1094.0 372.7,1112.4 378.3,1110.7 383.9,1100.7 389.4,1114.1 395.0,1111.6 400.6,1114.1 406.2,1124.2 411.8,1100.7 417.4,1114.1 423.0,1101.5 428.5,1115.8 434.1,1112.4 439.7,1114.1 445.3,1097.3 450.9,1107.4 456.5,1096.5 462.1,1110.7 467.6,1104.0 473.2,1101.5 478.8,1115.8 484.4,1114.1 490.0,1114.9 495.6,1114.9 501.2,1119.1 506.7,1119.1 512.3,1115.8 517.9,1114.9 523.5,1119.1 529.1,1124.2 534.7,1114.1 540.3,1114.9 545.8,1123.3 551.4,1119.1 557.0,1115.8 562.6,1106.6 568.2,1110.7 573.8,1112.4 579.4,1097.3 585.0,1110.7 590.5,1114.9 596.1,1110.7 601.7,1109.1 607.3,1110.7 612.9,1104.9 618.5,1114.1 624.1,1114.9 629.6,1097.3 635.2,1114.1 640.8,1109.1 646.4,1114.1 652.0,1105.7 657.6,1105.7 663.2,1099.0 668.7,1100.7 674.3,1124.2 679.9,1109.9 685.5,1125.0 691.1,1114.1 696.7,1094.8 702.3,1110.7 707.8,1114.1 713.4,1107.4 719.0,1110.7 724.6,1112.4 730.2,1124.2 735.8,1108.2 741.4,1114.1 746.9,1113.3 752.5,1115.8 758.1,1114.1 763.7,1113.3 769.3,1114.1 774.9,1109.9 780.5,1107.4 786.0,1114.1 791.6,1102.4 797.2,1114.1 802.8,1106.6 808.4,1106.6 814.0,1114.1 819.6,1114.9 825.1,1110.7 830.7,1099.0 836.3,1114.1 841.9,1117.5 847.5,1114.1 853.1,1104.9 858.7,1115.8 864.2,1114.1 869.8,1111.6 875.4,1119.1 881.0,1120.8 886.6,1114.1 892.2,1114.9 897.8,1106.6 903.4,1103.2 908.9,1110.7 914.5,1113.3 920.1,1107.4 925.7,1119.1 931.3,1120.0 936.9,1118.3 942.5,1113.3 948.0,1109.9 953.6,1113.3 959.2,1114.9 964.8,1117.5 970.4,1117.5 976.0,1120.0 981.6,1114.1 987.1,1119.1 992.7,1112.4 998.3,1119.1 1003.9,1117.5 1009.5,1119.1 1015.1,1115.8 1020.7,1108.2 1026.2,1116.6 1031.8,1115.8 1037.4,1113.3 1043.0,1119.1 1048.6,1114.1 1054.2,1119.1 1059.8,1115.8 1065.3,1108.2 1070.9,1104.0 1076.5,1119.1 1082.1,1117.5 1087.7,1103.2 1093.3,1101.5 1098.9,1115.8 1104.4,1120.8 1110.0,1120.8 1115.6,1120.8 1121.2,1120.8 1126.8,1119.1 1132.4,1119.1 1138.0,1114.9 1143.5,1120.0 1149.1,1120.8 1154.7,1120.8 1160.3,1120.8 1165.9,1117.5 1171.5,1111.6 1177.1,1117.5 1182.7,1117.5 1188.2,1118.3 1193.8,1119.1 1199.4,1106.6 1205.0,1119.1 1210.6,1120.0 1216.2,1119.1 1221.8,1117.5 1227.3,1120.0 1232.9,1120.0 1238.5,1117.5 1244.1,1117.5 1249.7,1119.1 1255.3,1120.0 1260.9,1119.1 1266.4,1120.8 1272.0,1120.8 1277.6,1111.6 1283.2,1112.4 1288.8,1111.6 1294.4,1117.5 1300.0,1116.6 1305.5,1117.5 1311.1,1114.9 1316.7,1114.1 1322.3,1119.1 1327.9,1118.3 1333.5,1120.0 1339.1,1117.5 1344.6,1111.6 1350.2,1117.5 1355.8,1111.6 1361.4,1119.1 1367.0,1120.0 1372.6,1114.9 1378.2,1109.1 1383.7,1114.1 1389.3,1120.0 1394.9,1115.8 1400.5,1113.3 1406.1,1120.0 1411.7,1120.8 1417.3,1120.8 1422.8,1117.5 1428.4,1109.9 1434.0,1115.8 1439.6,1120.0 1445.2,1118.3 1450.8,1114.9 1456.4,1117.5 1462.0,1120.8 1467.5,1119.1 1473.1,1117.5 1478.7,1114.9 1484.3,1112.4 1489.9,1104.9 1495.5,1114.1 1501.1,1117.5 1506.6,1115.8 1512.2,1119.1 1517.8,1120.0 1523.4,1114.9 1529.0,1120.0 1534.6,1118.3 1540.2,1120.0 1545.7,1120.8 1551.3,1119.1 1556.9,1114.9 1562.5,1120.0" fill="none" stroke="#000000" stroke-width="6.25" stroke-linejoin="round" stroke-linecap="butt" clip-path="url(#ax)"/><g fill="#000000"><circle cx="171.6" cy="725.7" r="5.2"/><circle cx="177.2" cy="1123.5" r="5.2"/><circle cx="182.8" cy="1007.8" r="5.2"/><circle cx="188.3" cy="252.9" r="5.2"/><circle cx="193.9" cy="838.1" r="5.2"/><circle cx="199.5" cy="1029.8" r="5.2"/><circle cx="205.1" cy="737.8" r="5.2"/><circle cx="210.7" cy="1023.2" r="5.2"/><circle cx="216.3" cy="1090.4" r="5.2"/><circle cx="221.9" cy="1108.1" r="5.2"/><circle cx="227.4" cy="875.5" r="5.2"/><circle cx="233.0" cy="889.9" r="5.2"/><circle cx="238.6" cy="1123.5" r="5.2"/><circle cx="244.2" cy="1076.1" r="5.2"/><circle cx="249.8" cy="1086.0" r="5.2"/><circle cx="255.4" cy="1123.5" r="5.2"/><circle cx="261.0" cy="1053.0" r="5.2"/><circle cx="266.5" cy="965.9" r="5.2"/><circle cx="272.1" cy="1062.9" r="5.2"/><circle cx="277.7" cy="1121.3" r="5.2"/><circle cx="283.3" cy="1077.5" r="5.2"/><circle cx="288.9" cy="1099.3" r="5.2"/><circle cx="294.5" cy="1119.1" r="5.2"/><circle cx="300.1" cy="1110.3" r="5.2"/><circle cx="305.6" cy="1120.2" r="5.2"/><circle cx="311.2" cy="1114.7" r="5.2"/><circle cx="316.8" cy="1093.7" r="5.2"/><circle cx="322.4" cy="1114.7" r="5.2"/><circle cx="328.0" cy="1070.1" r="5.2"/><circle cx="333.6" cy="1119.1" r="5.2"/><circle cx="339.2" cy="1086.0" r="5.2"/><circle cx="344.8" cy="1088.9" r="5.2"/><circle cx="350.3" cy="1117.5" r="5.2"/><circle cx="355.9" cy="1114.1" r="5.2"/><circle cx="361.5" cy="1105.7" r="5.2"/><circle cx="367.1" cy="1094.0" r="5.2"/><circle cx="372.7" cy="1112.4" r="5.2"/><circle cx="378.3" cy="1110.7" r="5.2"/><circle cx="383.9" cy="1100.7" r="5.2"/><circle cx="389.4" cy="1114.1" r="5.2"/><circle cx="395.0" cy="1111.6" r="5.2"/><circle cx="400.6" cy="1114.1" r="5.2"/><circle cx="406.2" cy="1124.2" r="5.2"/><circle cx="411.8" cy="1100.7" r="5.2"/><circle cx="417.4" cy="1114.1" r="5.2"/><circle cx="423.0" cy="1101.5" r="5.2"/><circle cx="428.5" cy="1115.8" r="5.2"/><circle cx="434.1" cy="1112.4" r="5.2"/><circle cx="439.7" cy="1114.1" r="5.2"/><circle cx="445.3" cy="1097.3" r="5.2"/><circle cx="450.9" cy="1107.4" r="5.2"/><circle cx="456.5" cy="1096.5" r="5.2"/><circle cx="462.1" cy="1110.7" r="5.2"/><circle cx="467.6" cy="1104.0" r="5.2"/><circle cx="473.2" cy="1101.5" r="5.2"/><circle cx="478.8" cy="1115.8" r="5.2"/><circle cx="484.4" cy="1114.1" r="5.2"/><circle cx="490.0" cy="1114.9" r="5.2"/><circle cx="495.6" cy="1114.9" r="5.2"/><circle cx="501.2" cy="1119.1" r="5.2"/><circle cx="506.7" cy="1119.1" r="5.2"/><circle cx="512.3" cy="1115.8" r="5.2"/><circle cx="517.9" cy="1114.9" r="5.2"/><circle cx="523.5" cy="1119.1" r="5.2"/><circle cx="529.1" cy="1124.2" r="5.2"/><circle cx="534.7" cy="1114.1" r="5.2"/><circle cx="540.3" cy="1114.9" r="5.2"/><circle cx="545.8" cy="1123.3" r="5.2"/><circle cx="551.4" cy="1119.1" r="5.2"/><circle cx="557.0" cy="1115.8" r="5.2"/><circle cx="562.6" cy="1106.6" r="5.2"/><circle cx="568.2" cy="1110.7" r="5.2"/><circle cx="573.8" cy="1112.4" r="5.2"/><circle cx="579.4" cy="1097.3" r="5.2"/><circle cx="585.0" cy="1110.7" r="5.2"/><circle cx="590.5" cy="1114.9" r="5.2"/><circle cx="596.1" cy="1110.7" r="5.2"/><circle cx="601.7" cy="1109.1" r="5.2"/><circle cx="607.3" cy="1110.7" r="5.2"/><circle cx="612.9" cy="1104.9" r="5.2"/><circle cx="618.5" cy="1114.1" r="5.2"/><circle cx="624.1" cy="1114.9" r="5.2"/><circle cx="629.6" cy="1097.3" r="5.2"/><circle cx="635.2" cy="1114.1" r="5.2"/><circle cx="640.8" cy="1109.1" r="5.2"/><circle cx="646.4" cy="1114.1" r="5.2"/><circle cx="652.0" cy="1105.7" r="5.2"/><circle cx="657.6" cy="1105.7" r="5.2"/><circle cx="663.2" cy="1099.0" r="5.2"/><circle cx="668.7" cy="1100.7" r="5.2"/><circle cx="674.3" cy="1124.2" r="5.2"/><circle cx="679.9" cy="1109.9" r="5.2"/><circle cx="685.5" cy="1125.0" r="5.2"/><circle cx="691.1" cy="1114.1" r="5.2"/><circle cx="696.7" cy="1094.8" r="5.2"/><circle cx="702.3" cy="1110.7" r="5.2"/><circle cx="707.8" cy="1114.1" r="5.2"/><circle cx="713.4" cy="1107.4" r="5.2"/><circle cx="719.0" cy="1110.7" r="5.2"/><circle cx="724.6" cy="1112.4" r="5.2"/><circle cx="730.2" cy="1124.2" r="5.2"/><circle cx="735.8" cy="1108.2" r="5.2"/><circle cx="741.4" cy="1114.1" r="5.2"/><circle cx="746.9" cy="1113.3" r="5.2"/><circle cx="752.5" cy="1115.8" r="5.2"/><circle cx="758.1" cy="1114.1" r="5.2"/><circle cx="763.7" cy="1113.3" r="5.2"/><circle cx="769.3" cy="1114.1" r="5.2"/><circle cx="774.9" cy="1109.9" r="5.2"/><circle cx="780.5" cy="1107.4" r="5.2"/><circle cx="786.0" cy="1114.1" r="5.2"/><circle cx="791.6" cy="1102.4" r="5.2"/><circle cx="797.2" cy="1114.1" r="5.2"/><circle cx="802.8" cy="1106.6" r="5.2"/><circle cx="808.4" cy="1106.6" r="5.2"/><circle cx="814.0" cy="1114.1" r="5.2"/><circle cx="819.6" cy="1114.9" r="5.2"/><circle cx="825.1" cy="1110.7" r="5.2"/><circle cx="830.7" cy="1099.0" r="5.2"/><circle cx="836.3" cy="1114.1" r="5.2"/><circle cx="841.9" cy="1117.5" r="5.2"/><circle cx="847.5" cy="1114.1" r="5.2"/><circle cx="853.1" cy="1104.9" r="5.2"/><circle cx="858.7" cy="1115.8" r="5.2"/><circle cx="864.2" cy="1114.1" r="5.2"/><circle cx="869.8" cy="1111.6" r="5.2"/><circle cx="875.4" cy="1119.1" r="5.2"/><circle cx="881.0" cy="1120.8" r="5.2"/><circle cx="886.6" cy="1114.1" r="5.2"/><circle cx="892.2" cy="1114.9" r="5.2"/><circle cx="897.8" cy="1106.6" r="5.2"/><circle cx="903.4" cy="1103.2" r="5.2"/><circle cx="908.9" cy="1110.7" r="5.2"/><circle cx="914.5" cy="1113.3" r="5.2"/><circle cx="920.1" cy="1107.4" r="5.2"/><circle cx="925.7" cy="1119.1" r="5.2"/><circle cx="931.3" cy="1120.0" r="5.2"/><circle cx="936.9" cy="1118.3" r="5.2"/><circle cx="942.5" cy="1113.3" r="5.2"/><circle cx="948.0" cy="1109.9" r="5.2"/><circle cx="953.6" cy="1113.3" r="5.2"/><circle cx="959.2" cy="1114.9" r="5.2"/><circle cx="964.8" cy="1117.5" r="5.2"/><circle cx="970.4" cy="1117.5" r="5.2"/><circle cx="976.0" cy="1120.0" r="5.2"/><circle cx="981.6" cy="1114.1" r="5.2"/><circle cx="987.1" cy="1119.1" r="5.2"/><circle cx="992.7" cy="1112.4" r="5.2"/><circle cx="998.3" cy="1119.1" r="5.2"/><circle cx="1003.9" cy="1117.5" r="5.2"/><circle cx="1009.5" cy="1119.1" r="5.2"/><circle cx="1015.1" cy="1115.8" r="5.2"/><circle cx="1020.7" cy="1108.2" r="5.2"/><circle cx="1026.2" cy="1116.6" r="5.2"/><circle cx="1031.8" cy="1115.8" r="5.2"/><circle cx="1037.4" cy="1113.3" r="5.2"/><circle cx="1043.0" cy="1119.1" r="5.2"/><circle cx="1048.6" cy="1114.1" r="5.2"/><circle cx="1054.2" cy="1119.1" r="5.2"/><circle cx="1059.8" cy="1115.8" r="5.2"/><circle cx="1065.3" cy="1108.2" r="5.2"/><circle cx="1070.9" cy="1104.0" r="5.2"/><circle cx="1076.5" cy="1119.1" r="5.2"/><circle cx="1082.1" cy="1117.5" r="5.2"/><circle cx="1087.7" cy="1103.2" r="5.2"/><circle cx="1093.3" cy="1101.5" r="5.2"/><circle cx="1098.9" cy="1115.8" r="5.2"/><circle cx="1104.4" cy="1120.8" r="5.2"/><circle cx="1110.0" cy="1120.8" r="5.2"/><circle cx="1115.6" cy="1120.8" r="5.2"/><circle cx="1121.2" cy="1120.8" r="5.2"/><circle cx="1126.8" cy="1119.1" r="5.2"/><circle cx="1132.4" cy="1119.1" r="5.2"/><circle cx="1138.0" cy="1114.9" r="5.2"/><circle cx="1143.5" cy="1120.0" r="5.2"/><circle cx="1149.1" cy="1120.8" r="5.2"/><circle cx="1154.7" cy="1120.8" r="5.2"/><circle cx="1160.3" cy="1120.8" r="5.2"/><circle cx="1165.9" cy="1117.5" r="5.2"/><circle cx="1171.5" cy="1111.6" r="5.2"/><circle cx="1177.1" cy="1117.5" r="5.2"/><circle cx="1182.7" cy="1117.5" r="5.2"/><circle cx="1188.2" cy="1118.3" r="5.2"/><circle cx="1193.8" cy="1119.1" r="5.2"/><circle cx="1199.4" cy="1106.6" r="5.2"/><circle cx="1205.0" cy="1119.1" r="5.2"/><circle cx="1210.6" cy="1120.0" r="5.2"/><circle cx="1216.2" cy="1119.1" r="5.2"/><circle cx="1221.8" cy="1117.5" r="5.2"/><circle cx="1227.3" cy="1120.0" r="5.2"/><circle cx="1232.9" cy="1120.0" r="5.2"/><circle cx="1238.5" cy="1117.5" r="5.2"/><circle cx="1244.1" cy="1117.5" r="5.2"/><circle cx="1249.7" cy="1119.1" r="5.2"/><circle cx="1255.3" cy="1120.0" r="5.2"/><circle cx="1260.9" cy="1119.1" r="5.2"/><circle cx="1266.4" cy="1120.8" r="5.2"/><circle cx="1272.0" cy="1120.8" r="5.2"/><circle cx="1277.6" cy="1111.6" r="5.2"/><circle cx="1283.2" cy="1112.4" r="5.2"/><circle cx="1288.8" cy="1111.6" r="5.2"/><circle cx="1294.4" cy="1117.5" r="5.2"/><circle cx="1300.0" cy="1116.6" r="5.2"/><circle cx="1305.5" cy="1117.5" r="5.2"/><circle cx="1311.1" cy="1114.9" r="5.2"/><circle cx="1316.7" cy="1114.1" r="5.2"/><circle cx="1322.3" cy="1119.1" r="5.2"/><circle cx="1327.9" cy="1118.3" r="5.2"/><circle cx="1333.5" cy="1120.0" r="5.2"/><circle cx="1339.1" cy="1117.5" r="5.2"/><circle cx="1344.6" cy="1111.6" r="5.2"/><circle cx="1350.2" cy="1117.5" r="5.2"/><circle cx="1355.8" cy="1111.6" r="5.2"/><circle cx="1361.4" cy="1119.1" r="5.2"/><circle cx="1367.0" cy="1120.0" r="5.2"/><circle cx="1372.6" cy="1114.9" r="5.2"/><circle cx="1378.2" cy="1109.1" r="5.2"/><circle cx="1383.7" cy="1114.1" r="5.2"/><circle cx="1389.3" cy="1120.0" r="5.2"/><circle cx="1394.9" cy="1115.8" r="5.2"/><circle cx="1400.5" cy="1113.3" r="5.2"/><circle cx="1406.1" cy="1120.0" r="5.2"/><circle cx="1411.7" cy="1120.8" r="5.2"/><circle cx="1417.3" cy="1120.8" r="5.2"/><circle cx="1422.8" cy="1117.5" r="5.2"/><circle cx="1428.4" cy="1109.9" r="5.2"/><circle cx="1434.0" cy="1115.8" r="5.2"/><circle cx="1439.6" cy="1120.0" r="5.2"/><circle cx="1445.2" cy="1118.3" r="5.2"/><circle cx="1450.8" cy="1114.9" r="5.2"/><circle cx="1456.4" cy="1117.5" r="5.2"/><circle cx="1462.0" cy="1120.8" r="5.2"/><circle cx="1467.5" cy="1119.1" r="5.2"/><circle cx="1473.1" cy="1117.5" r="5.2"/><circle cx="1478.7" cy="1114.9" r="5.2"/><circle cx="1484.3" cy="1112.4" r="5.2"/><circle cx="1489.9" cy="1104.9" r="5.2"/><circle cx="1495.5" cy="1114.1" r="5.2"/><circle cx="1501.1" cy="1117.5" r="5.2"/><circle cx="1506.6" cy="1115.8" r="5.2"/><circle cx="1512.2" cy="1119.1" r="5.2"/><circle cx="1517.8" cy="1120.0" r="5.2"/><circle cx="1523.4" cy="1114.9" r="5.2"/><circle cx="1529.0" cy="1120.0" r="5.2"/><circle cx="1534.6" cy="1118.3" r="5.2"/><circle cx="1540.2" cy="1120.0" r="5.2"/><circle cx="1545.7" cy="1120.8" r="5.2"/><circle cx="1551.3" cy="1119.1" r="5.2"/><circle cx="1556.9" cy="1114.9" r="5.2"/><circle cx="1562.5" cy="1120.0" r="5.2"/></g>
<polyline points="171.6,628.0 177.2,265.0 182.8,905.0 188.3,960.0 193.9,930.0 199.5,862.0 205.1,795.0 210.7,893.0 216.3,185.0 221.9,166.0 227.4,142.0 233.0,172.0 238.6,208.0 244.2,205.0 249.8,204.0 255.4,182.0 261.0,166.0 266.5,200.0 272.1,345.0 277.7,368.0 283.3,386.0 288.9,325.0 294.4,280.8 300.1,236.9 305.7,258.9 311.3,200.6 316.8,199.8 322.4,198.1 328.0,196.4 333.6,194.7 339.2,215.0 344.7,206.5 350.3,218.3 355.9,275.7 361.5,286.7 367.2,283.3 372.7,274.1 378.3,238.6 383.9,231.0 389.4,227.6 395.0,233.5 400.6,227.6 406.2,220.9 411.7,215.3 417.3,216.6 422.9,214.1 428.5,210.7 434.0,207.4 439.6,218.3 445.4,240.3 450.9,228.5 456.5,220.9 462.1,194.7 467.6,188.8 473.2,183.7 478.8,199.8 484.3,177.0 489.9,156.7 495.5,162.6 501.1,160.1 506.8,156.7 512.4,261.4 518.0,273.2 523.6,267.3 529.1,253.8 534.7,264.8 539.5,259.6" fill="none" stroke="#c800ff" stroke-width="6.25" stroke-linejoin="round" stroke-dasharray="21.1 20.15" stroke-dashoffset="12.34" clip-path="url(#ax)"/>
<polyline points="700.0,219.7 730.2,218.7 735.8,217.5 746.9,215.8 780.0,215.8" fill="none" stroke="#c800ff" stroke-width="6.25" stroke-linejoin="round" stroke-dasharray="21.1 20.15" stroke-dashoffset="32.29" clip-path="url(#ax)"/>
<polyline points="780.0,215.8 786.0,215.8 791.6,214.1 797.2,250.4 802.8,250.4 810.0,250.2 820.0,250.4 822.7,250.2 835.3,247.6 842.4,245.4 853.1,262.8 871.6,264.5 892.7,260.3 907.9,261.1 915.5,251.8 926.5,252.7 936.0,252.9" fill="none" stroke="#c800ff" stroke-width="6.25" stroke-linejoin="round" stroke-dasharray="21.1 20.15" stroke-dashoffset="30.95" clip-path="url(#ax)"/>
<polyline points="936.0,252.9 945.9,253.2 967.0,253.2 984.8,244.2 1005.9,247.6 1020.2,257.8 1032.9,245.9 1038.8,245.1 1058.3,246.4 1080.0,246.4 1080.1,244.6 1090.0,242.8" fill="none" stroke="#c800ff" stroke-width="6.25" stroke-linejoin="round" stroke-dasharray="21.1 20.15" stroke-dashoffset="32.12" clip-path="url(#ax)"/>
<polyline points="1090.0,242.8 1097.9,241.3 1119.0,240.9 1138.4,240.2 1160.4,240.2 1173.8,251.4 1195.8,251.7 1215.2,251.1 1236.3,251.1 1256.6,250.4 1277.7,250.0 1297.1,249.7 1318.2,249.7 1336.8,249.7 1387.5,249.2 1441.6,249.0 1450.9,249.0 1457.6,258.0 1479.5,256.5 1499.0,257.3 1562.5,257.3" fill="none" stroke="#c800ff" stroke-width="6.25" stroke-linejoin="round" stroke-dasharray="21.1 20.15" stroke-dashoffset="35.53" clip-path="url(#ax)"/>
<path d="M550.9 250.6L551.4 249.6L557.0 233.5L557.7 230.7M562.8 211.2L565.0 232.2M568.0 260.1L568.2 262.2L569.3 243.3M570.3 226.9L571.5 205.8M572.7 185.3L573.8 166.0L574.8 164.5M586.7 150.6L590.5 148.3L596.1 153.3L600.2 161.5M618.4 159.7L619.8 180.7M621.2 200.7L622.6 221.7M623.8 240.6L623.9 242.0L629.7 242.0L635.3 242.0L640.9 242.0L643.6 242.0M654.1 226.6L657.6 220.9L663.2 220.9L665.6 229.4M675.9 231.7L679.9 223.4L685.4 220.9L691.0 220.0L691.2 220.0" fill="none" stroke="#c800ff" stroke-width="6.25" stroke-linejoin="round" clip-path="url(#ax)"/>
<polyline points="171.6,666.9 177.2,353.8 182.8,956.0 188.3,1013.8 193.9,1090.0 199.5,1048.8 205.1,1038.1 210.7,1082.5 216.3,1122.5 221.9,1123.8 227.4,1085.0 233.0,1107.5 238.6,1083.8 244.2,1100.0 249.8,1111.2 255.4,1091.2 261.0,1116.2 266.5,1064.4 272.1,1108.8 277.7,1118.8 283.3,1102.5 288.9,1088.8 294.5,1090.0 300.1,1123.8 305.6,1060.6 311.2,1090.0 316.8,1124.4 322.4,1116.2 328.0,1112.5 333.6,1100.0 339.2,1122.5 344.8,1120.8 350.3,1090.6 355.9,1114.1 361.5,1122.5 367.1,1122.5 372.7,1114.1 378.3,1112.4 383.9,1117.5 389.4,1120.0 395.0,1114.9 400.6,1115.8 406.2,1115.8 411.8,1119.1 417.4,1122.5 423.0,1120.8 428.5,1122.5 434.1,1115.8 439.7,1120.0 445.3,1119.1 450.9,1110.7 456.5,1101.5 462.1,1115.8 467.6,1116.6 473.2,1119.1 478.8,1123.3 484.4,1119.1 490.0,1119.1 495.6,1118.3 501.2,1115.8 506.7,1097.3 512.3,1114.1 517.9,1115.8 523.5,1119.1 529.1,1107.4 534.7,1109.1 540.3,1117.5 545.8,1117.5 551.4,1120.0 557.0,1122.5 562.6,1114.9 568.2,1118.3 573.8,1120.0 579.4,1119.1 585.0,1119.1 590.5,1122.5 596.1,1120.0 601.7,1119.1 607.3,1121.6 612.9,1119.1 618.5,1118.3 624.1,1121.6 629.6,1121.6 635.2,1122.5 640.8,1122.5 646.4,1121.6 652.0,1120.0 657.6,1120.8 663.2,1119.1 668.7,1114.9 674.3,1119.1 679.9,1121.6 685.5,1120.8 691.1,1120.8 696.7,1121.6 702.3,1122.5 707.8,1122.5 713.4,1122.5 719.0,1122.5 724.6,1122.1 730.2,1121.6 735.8,1122.5 741.4,1122.5 746.9,1122.5 752.5,1122.5 758.1,1122.5 763.7,1122.5 769.3,1122.5 774.9,1122.5 780.5,1121.6 786.0,1120.0 791.6,1116.6 797.2,1120.8 802.8,1122.5 808.4,1122.5 814.0,1122.5 819.6,1121.6 825.1,1121.6 830.7,1122.5 836.3,1122.5 841.9,1122.5 847.5,1122.5 853.1,1122.5 858.7,1122.5 864.2,1122.5 869.8,1122.5 875.4,1122.5 881.0,1121.6 886.6,1120.0 892.2,1120.0 897.8,1120.8 903.4,1118.3 908.9,1119.5 914.5,1120.8 920.1,1121.6 925.7,1122.5 931.3,1122.5 936.9,1122.5 942.5,1122.5 948.0,1122.5 953.6,1122.5 959.2,1122.5 964.8,1122.5 970.4,1122.5 976.0,1122.5 981.6,1121.6 987.1,1120.0 992.7,1120.8 998.3,1122.5 1003.9,1122.5 1009.5,1121.6 1015.1,1118.8 1020.7,1121.6 1026.2,1122.5 1031.8,1122.5 1037.4,1121.6 1043.0,1122.5 1048.6,1122.5 1054.2,1122.5 1059.8,1122.5 1065.3,1122.5 1070.9,1121.6 1076.5,1120.8 1082.1,1118.3 1087.7,1120.0 1093.3,1118.8 1098.9,1121.6 1104.4,1122.5 1110.0,1122.5 1115.6,1122.5 1121.2,1122.5 1126.8,1122.8 1132.4,1122.8 1138.0,1122.8 1143.5,1122.8 1149.1,1122.8 1154.7,1122.8 1160.3,1122.8 1165.9,1122.8 1171.5,1122.8 1177.1,1122.8 1182.7,1122.8 1188.2,1122.8 1193.8,1122.8 1199.4,1122.8 1205.0,1122.8 1210.6,1122.8 1216.2,1122.8 1221.8,1122.8 1227.3,1122.8 1232.9,1122.8 1238.5,1122.8 1244.1,1122.8 1249.7,1122.8 1255.3,1122.8 1260.9,1122.8 1266.4,1122.8 1272.0,1122.8 1277.6,1122.8 1283.2,1122.8 1288.8,1122.8 1294.4,1122.8 1300.0,1122.8 1305.5,1122.8 1311.1,1122.8 1316.7,1122.8 1322.3,1122.8 1327.9,1122.8 1333.5,1122.8 1339.1,1122.8 1344.6,1122.8 1350.2,1122.8 1355.8,1122.8 1361.4,1122.8 1367.0,1122.8 1372.6,1122.8 1378.2,1122.8 1383.7,1122.8 1389.3,1122.8 1394.9,1122.8 1400.5,1122.8 1406.1,1122.8 1411.7,1122.8 1417.3,1122.8 1422.8,1122.8 1428.4,1122.8 1434.0,1122.8 1439.6,1122.8 1445.2,1122.8 1450.8,1122.8 1456.4,1122.8 1462.0,1122.8 1467.5,1122.8 1473.1,1122.8 1478.7,1122.8 1484.3,1122.8 1489.9,1122.8 1495.5,1122.8 1501.1,1122.8 1506.6,1122.8 1512.2,1122.8 1517.8,1122.8 1523.4,1122.8 1529.0,1122.8 1534.6,1122.8 1540.2,1122.8 1545.7,1122.8 1551.3,1122.8 1556.9,1122.8 1562.5,1122.8" fill="none" stroke="#c800ff" stroke-width="6.25" stroke-linejoin="round" stroke-linecap="butt" clip-path="url(#ax)"/><g fill="#c800ff"><circle cx="171.6" cy="666.9" r="5.2"/><circle cx="177.2" cy="353.8" r="5.2"/><circle cx="182.8" cy="956.0" r="5.2"/><circle cx="188.3" cy="1013.8" r="5.2"/><circle cx="193.9" cy="1090.0" r="5.2"/><circle cx="199.5" cy="1048.8" r="5.2"/><circle cx="205.1" cy="1038.1" r="5.2"/><circle cx="210.7" cy="1082.5" r="5.2"/><circle cx="216.3" cy="1122.5" r="5.2"/><circle cx="221.9" cy="1123.8" r="5.2"/><circle cx="227.4" cy="1085.0" r="5.2"/><circle cx="233.0" cy="1107.5" r="5.2"/><circle cx="238.6" cy="1083.8" r="5.2"/><circle cx="244.2" cy="1100.0" r="5.2"/><circle cx="249.8" cy="1111.2" r="5.2"/><circle cx="255.4" cy="1091.2" r="5.2"/><circle cx="261.0" cy="1116.2" r="5.2"/><circle cx="266.5" cy="1064.4" r="5.2"/><circle cx="272.1" cy="1108.8" r="5.2"/><circle cx="277.7" cy="1118.8" r="5.2"/><circle cx="283.3" cy="1102.5" r="5.2"/><circle cx="288.9" cy="1088.8" r="5.2"/><circle cx="294.5" cy="1090.0" r="5.2"/><circle cx="300.1" cy="1123.8" r="5.2"/><circle cx="305.6" cy="1060.6" r="5.2"/><circle cx="311.2" cy="1090.0" r="5.2"/><circle cx="316.8" cy="1124.4" r="5.2"/><circle cx="322.4" cy="1116.2" r="5.2"/><circle cx="328.0" cy="1112.5" r="5.2"/><circle cx="333.6" cy="1100.0" r="5.2"/><circle cx="339.2" cy="1122.5" r="5.2"/><circle cx="344.8" cy="1120.8" r="5.2"/><circle cx="350.3" cy="1090.6" r="5.2"/><circle cx="355.9" cy="1114.1" r="5.2"/><circle cx="361.5" cy="1122.5" r="5.2"/><circle cx="367.1" cy="1122.5" r="5.2"/><circle cx="372.7" cy="1114.1" r="5.2"/><circle cx="378.3" cy="1112.4" r="5.2"/><circle cx="383.9" cy="1117.5" r="5.2"/><circle cx="389.4" cy="1120.0" r="5.2"/><circle cx="395.0" cy="1114.9" r="5.2"/><circle cx="400.6" cy="1115.8" r="5.2"/><circle cx="406.2" cy="1115.8" r="5.2"/><circle cx="411.8" cy="1119.1" r="5.2"/><circle cx="417.4" cy="1122.5" r="5.2"/><circle cx="423.0" cy="1120.8" r="5.2"/><circle cx="428.5" cy="1122.5" r="5.2"/><circle cx="434.1" cy="1115.8" r="5.2"/><circle cx="439.7" cy="1120.0" r="5.2"/><circle cx="445.3" cy="1119.1" r="5.2"/><circle cx="450.9" cy="1110.7" r="5.2"/><circle cx="456.5" cy="1101.5" r="5.2"/><circle cx="462.1" cy="1115.8" r="5.2"/><circle cx="467.6" cy="1116.6" r="5.2"/><circle cx="473.2" cy="1119.1" r="5.2"/><circle cx="478.8" cy="1123.3" r="5.2"/><circle cx="484.4" cy="1119.1" r="5.2"/><circle cx="490.0" cy="1119.1" r="5.2"/><circle cx="495.6" cy="1118.3" r="5.2"/><circle cx="501.2" cy="1115.8" r="5.2"/><circle cx="506.7" cy="1097.3" r="5.2"/><circle cx="512.3" cy="1114.1" r="5.2"/><circle cx="517.9" cy="1115.8" r="5.2"/><circle cx="523.5" cy="1119.1" r="5.2"/><circle cx="529.1" cy="1107.4" r="5.2"/><circle cx="534.7" cy="1109.1" r="5.2"/><circle cx="540.3" cy="1117.5" r="5.2"/><circle cx="545.8" cy="1117.5" r="5.2"/><circle cx="551.4" cy="1120.0" r="5.2"/><circle cx="557.0" cy="1122.5" r="5.2"/><circle cx="562.6" cy="1114.9" r="5.2"/><circle cx="568.2" cy="1118.3" r="5.2"/><circle cx="573.8" cy="1120.0" r="5.2"/><circle cx="579.4" cy="1119.1" r="5.2"/><circle cx="585.0" cy="1119.1" r="5.2"/><circle cx="590.5" cy="1122.5" r="5.2"/><circle cx="596.1" cy="1120.0" r="5.2"/><circle cx="601.7" cy="1119.1" r="5.2"/><circle cx="607.3" cy="1121.6" r="5.2"/><circle cx="612.9" cy="1119.1" r="5.2"/><circle cx="618.5" cy="1118.3" r="5.2"/><circle cx="624.1" cy="1121.6" r="5.2"/><circle cx="629.6" cy="1121.6" r="5.2"/><circle cx="635.2" cy="1122.5" r="5.2"/><circle cx="640.8" cy="1122.5" r="5.2"/><circle cx="646.4" cy="1121.6" r="5.2"/><circle cx="652.0" cy="1120.0" r="5.2"/><circle cx="657.6" cy="1120.8" r="5.2"/><circle cx="663.2" cy="1119.1" r="5.2"/><circle cx="668.7" cy="1114.9" r="5.2"/><circle cx="674.3" cy="1119.1" r="5.2"/><circle cx="679.9" cy="1121.6" r="5.2"/><circle cx="685.5" cy="1120.8" r="5.2"/><circle cx="691.1" cy="1120.8" r="5.2"/><circle cx="696.7" cy="1121.6" r="5.2"/><circle cx="702.3" cy="1122.5" r="5.2"/><circle cx="707.8" cy="1122.5" r="5.2"/><circle cx="713.4" cy="1122.5" r="5.2"/><circle cx="719.0" cy="1122.5" r="5.2"/><circle cx="724.6" cy="1122.1" r="5.2"/><circle cx="730.2" cy="1121.6" r="5.2"/><circle cx="735.8" cy="1122.5" r="5.2"/><circle cx="741.4" cy="1122.5" r="5.2"/><circle cx="746.9" cy="1122.5" r="5.2"/><circle cx="752.5" cy="1122.5" r="5.2"/><circle cx="758.1" cy="1122.5" r="5.2"/><circle cx="763.7" cy="1122.5" r="5.2"/><circle cx="769.3" cy="1122.5" r="5.2"/><circle cx="774.9" cy="1122.5" r="5.2"/><circle cx="780.5" cy="1121.6" r="5.2"/><circle cx="786.0" cy="1120.0" r="5.2"/><circle cx="791.6" cy="1116.6" r="5.2"/><circle cx="797.2" cy="1120.8" r="5.2"/><circle cx="802.8" cy="1122.5" r="5.2"/><circle cx="808.4" cy="1122.5" r="5.2"/><circle cx="814.0" cy="1122.5" r="5.2"/><circle cx="819.6" cy="1121.6" r="5.2"/><circle cx="825.1" cy="1121.6" r="5.2"/><circle cx="830.7" cy="1122.5" r="5.2"/><circle cx="836.3" cy="1122.5" r="5.2"/><circle cx="841.9" cy="1122.5" r="5.2"/><circle cx="847.5" cy="1122.5" r="5.2"/><circle cx="853.1" cy="1122.5" r="5.2"/><circle cx="858.7" cy="1122.5" r="5.2"/><circle cx="864.2" cy="1122.5" r="5.2"/><circle cx="869.8" cy="1122.5" r="5.2"/><circle cx="875.4" cy="1122.5" r="5.2"/><circle cx="881.0" cy="1121.6" r="5.2"/><circle cx="886.6" cy="1120.0" r="5.2"/><circle cx="892.2" cy="1120.0" r="5.2"/><circle cx="897.8" cy="1120.8" r="5.2"/><circle cx="903.4" cy="1118.3" r="5.2"/><circle cx="908.9" cy="1119.5" r="5.2"/><circle cx="914.5" cy="1120.8" r="5.2"/><circle cx="920.1" cy="1121.6" r="5.2"/><circle cx="925.7" cy="1122.5" r="5.2"/><circle cx="931.3" cy="1122.5" r="5.2"/><circle cx="936.9" cy="1122.5" r="5.2"/><circle cx="942.5" cy="1122.5" r="5.2"/><circle cx="948.0" cy="1122.5" r="5.2"/><circle cx="953.6" cy="1122.5" r="5.2"/><circle cx="959.2" cy="1122.5" r="5.2"/><circle cx="964.8" cy="1122.5" r="5.2"/><circle cx="970.4" cy="1122.5" r="5.2"/><circle cx="976.0" cy="1122.5" r="5.2"/><circle cx="981.6" cy="1121.6" r="5.2"/><circle cx="987.1" cy="1120.0" r="5.2"/><circle cx="992.7" cy="1120.8" r="5.2"/><circle cx="998.3" cy="1122.5" r="5.2"/><circle cx="1003.9" cy="1122.5" r="5.2"/><circle cx="1009.5" cy="1121.6" r="5.2"/><circle cx="1015.1" cy="1118.8" r="5.2"/><circle cx="1020.7" cy="1121.6" r="5.2"/><circle cx="1026.2" cy="1122.5" r="5.2"/><circle cx="1031.8" cy="1122.5" r="5.2"/><circle cx="1037.4" cy="1121.6" r="5.2"/><circle cx="1043.0" cy="1122.5" r="5.2"/><circle cx="1048.6" cy="1122.5" r="5.2"/><circle cx="1054.2" cy="1122.5" r="5.2"/><circle cx="1059.8" cy="1122.5" r="5.2"/><circle cx="1065.3" cy="1122.5" r="5.2"/><circle cx="1070.9" cy="1121.6" r="5.2"/><circle cx="1076.5" cy="1120.8" r="5.2"/><circle cx="1082.1" cy="1118.3" r="5.2"/><circle cx="1087.7" cy="1120.0" r="5.2"/><circle cx="1093.3" cy="1118.8" r="5.2"/><circle cx="1098.9" cy="1121.6" r="5.2"/><circle cx="1104.4" cy="1122.5" r="5.2"/><circle cx="1110.0" cy="1122.5" r="5.2"/><circle cx="1115.6" cy="1122.5" r="5.2"/><circle cx="1121.2" cy="1122.5" r="5.2"/><circle cx="1126.8" cy="1122.8" r="5.2"/><circle cx="1132.4" cy="1122.8" r="5.2"/><circle cx="1138.0" cy="1122.8" r="5.2"/><circle cx="1143.5" cy="1122.8" r="5.2"/><circle cx="1149.1" cy="1122.8" r="5.2"/><circle cx="1154.7" cy="1122.8" r="5.2"/><circle cx="1160.3" cy="1122.8" r="5.2"/><circle cx="1165.9" cy="1122.8" r="5.2"/><circle cx="1171.5" cy="1122.8" r="5.2"/><circle cx="1177.1" cy="1122.8" r="5.2"/><circle cx="1182.7" cy="1122.8" r="5.2"/><circle cx="1188.2" cy="1122.8" r="5.2"/><circle cx="1193.8" cy="1122.8" r="5.2"/><circle cx="1199.4" cy="1122.8" r="5.2"/><circle cx="1205.0" cy="1122.8" r="5.2"/><circle cx="1210.6" cy="1122.8" r="5.2"/><circle cx="1216.2" cy="1122.8" r="5.2"/><circle cx="1221.8" cy="1122.8" r="5.2"/><circle cx="1227.3" cy="1122.8" r="5.2"/><circle cx="1232.9" cy="1122.8" r="5.2"/><circle cx="1238.5" cy="1122.8" r="5.2"/><circle cx="1244.1" cy="1122.8" r="5.2"/><circle cx="1249.7" cy="1122.8" r="5.2"/><circle cx="1255.3" cy="1122.8" r="5.2"/><circle cx="1260.9" cy="1122.8" r="5.2"/><circle cx="1266.4" cy="1122.8" r="5.2"/><circle cx="1272.0" cy="1122.8" r="5.2"/><circle cx="1277.6" cy="1122.8" r="5.2"/><circle cx="1283.2" cy="1122.8" r="5.2"/><circle cx="1288.8" cy="1122.8" r="5.2"/><circle cx="1294.4" cy="1122.8" r="5.2"/><circle cx="1300.0" cy="1122.8" r="5.2"/><circle cx="1305.5" cy="1122.8" r="5.2"/><circle cx="1311.1" cy="1122.8" r="5.2"/><circle cx="1316.7" cy="1122.8" r="5.2"/><circle cx="1322.3" cy="1122.8" r="5.2"/><circle cx="1327.9" cy="1122.8" r="5.2"/><circle cx="1333.5" cy="1122.8" r="5.2"/><circle cx="1339.1" cy="1122.8" r="5.2"/><circle cx="1344.6" cy="1122.8" r="5.2"/><circle cx="1350.2" cy="1122.8" r="5.2"/><circle cx="1355.8" cy="1122.8" r="5.2"/><circle cx="1361.4" cy="1122.8" r="5.2"/><circle cx="1367.0" cy="1122.8" r="5.2"/><circle cx="1372.6" cy="1122.8" r="5.2"/><circle cx="1378.2" cy="1122.8" r="5.2"/><circle cx="1383.7" cy="1122.8" r="5.2"/><circle cx="1389.3" cy="1122.8" r="5.2"/><circle cx="1394.9" cy="1122.8" r="5.2"/><circle cx="1400.5" cy="1122.8" r="5.2"/><circle cx="1406.1" cy="1122.8" r="5.2"/><circle cx="1411.7" cy="1122.8" r="5.2"/><circle cx="1417.3" cy="1122.8" r="5.2"/><circle cx="1422.8" cy="1122.8" r="5.2"/><circle cx="1428.4" cy="1122.8" r="5.2"/><circle cx="1434.0" cy="1122.8" r="5.2"/><circle cx="1439.6" cy="1122.8" r="5.2"/><circle cx="1445.2" cy="1122.8" r="5.2"/><circle cx="1450.8" cy="1122.8" r="5.2"/><circle cx="1456.4" cy="1122.8" r="5.2"/><circle cx="1462.0" cy="1122.8" r="5.2"/><circle cx="1467.5" cy="1122.8" r="5.2"/><circle cx="1473.1" cy="1122.8" r="5.2"/><circle cx="1478.7" cy="1122.8" r="5.2"/><circle cx="1484.3" cy="1122.8" r="5.2"/><circle cx="1489.9" cy="1122.8" r="5.2"/><circle cx="1495.5" cy="1122.8" r="5.2"/><circle cx="1501.1" cy="1122.8" r="5.2"/><circle cx="1506.6" cy="1122.8" r="5.2"/><circle cx="1512.2" cy="1122.8" r="5.2"/><circle cx="1517.8" cy="1122.8" r="5.2"/><circle cx="1523.4" cy="1122.8" r="5.2"/><circle cx="1529.0" cy="1122.8" r="5.2"/><circle cx="1534.6" cy="1122.8" r="5.2"/><circle cx="1540.2" cy="1122.8" r="5.2"/><circle cx="1545.7" cy="1122.8" r="5.2"/><circle cx="1551.3" cy="1122.8" r="5.2"/><circle cx="1556.9" cy="1122.8" r="5.2"/><circle cx="1562.5" cy="1122.8" r="5.2"/></g>
</g>
<text x="792.3" y="423.3" font-size="42.6" style="fill:#000">HV</text>
 <text x="778.3" y="1000.3" font-size="43.8" style="fill:#000" font-style="italic" font-family="'Liberation Serif','DejaVu Serif',serif">ζ</text>
<rect x="1218" y="423.7" width="221.5999999999999" height="390.40000000000003" fill="#fff" stroke="#262626" stroke-width="3.3"/>
<path d="M1230 460.7H1328" stroke="#ff0000" stroke-width="6.25" stroke-dasharray="22 20" fill="none"/><text y="479.6" font-size="38" style="fill:#000"><tspan x="1337" font-style="italic">β</tspan><tspan x="1360.3" y="461.8" font-size="31.5">T</tspan><tspan x="1380.5" y="479.6">=</tspan><tspan x="1404">3</tspan></text>
<path d="M1230 523.8H1328" stroke="#ff0000" stroke-width="6.25" fill="none"/><circle cx="1279" cy="523.8" r="5.3" fill="#ff0000"/><text y="542.7" font-size="38" style="fill:#000"><tspan x="1337" font-style="italic">β</tspan><tspan x="1360.3" y="524.9" font-size="31.5">T</tspan><tspan x="1380.5" y="542.7">=</tspan><tspan x="1404">3</tspan></text>
<path d="M1230 586.9H1328" stroke="#000000" stroke-width="6.25" stroke-dasharray="22 20" fill="none"/><text y="605.8" font-size="38" style="fill:#000"><tspan x="1337" font-style="italic">β</tspan><tspan x="1360.3" y="588.0" font-size="31.5">T</tspan><tspan x="1380.5" y="605.8">=</tspan><tspan x="1404">2</tspan></text>
<path d="M1230 650.0H1328" stroke="#000000" stroke-width="6.25" fill="none"/><circle cx="1279" cy="650.0" r="5.3" fill="#000000"/><text y="668.9" font-size="38" style="fill:#000"><tspan x="1337" font-style="italic">β</tspan><tspan x="1360.3" y="651.1" font-size="31.5">T</tspan><tspan x="1380.5" y="668.9">=</tspan><tspan x="1404">2</tspan></text>
<path d="M1230 713.1H1328" stroke="#c800ff" stroke-width="6.25" stroke-dasharray="22 20" fill="none"/><text y="732.0" font-size="38" style="fill:#000"><tspan x="1337" font-style="italic">β</tspan><tspan x="1360.3" y="714.2" font-size="31.5">T</tspan><tspan x="1380.5" y="732.0">=</tspan><tspan x="1404">1</tspan></text>
<path d="M1230 776.2H1328" stroke="#c800ff" stroke-width="6.25" fill="none"/><circle cx="1279" cy="776.2" r="5.3" fill="#c800ff"/><text y="795.1" font-size="38" style="fill:#000"><tspan x="1337" font-style="italic">β</tspan><tspan x="1360.3" y="777.3" font-size="31.5">T</tspan><tspan x="1380.5" y="795.1">=</tspan><tspan x="1404">1</tspan></text>
<path d="M1406 728.3H1413.2v4.6H1406zM1417.1 728.3H1424.5v4.6H1417.1zM1406 791.3H1413.2v4.6H1406zM1417.1 791.3H1424.5v4.6H1417.1z" fill="#fff"/>
</svg>
</body></html>
